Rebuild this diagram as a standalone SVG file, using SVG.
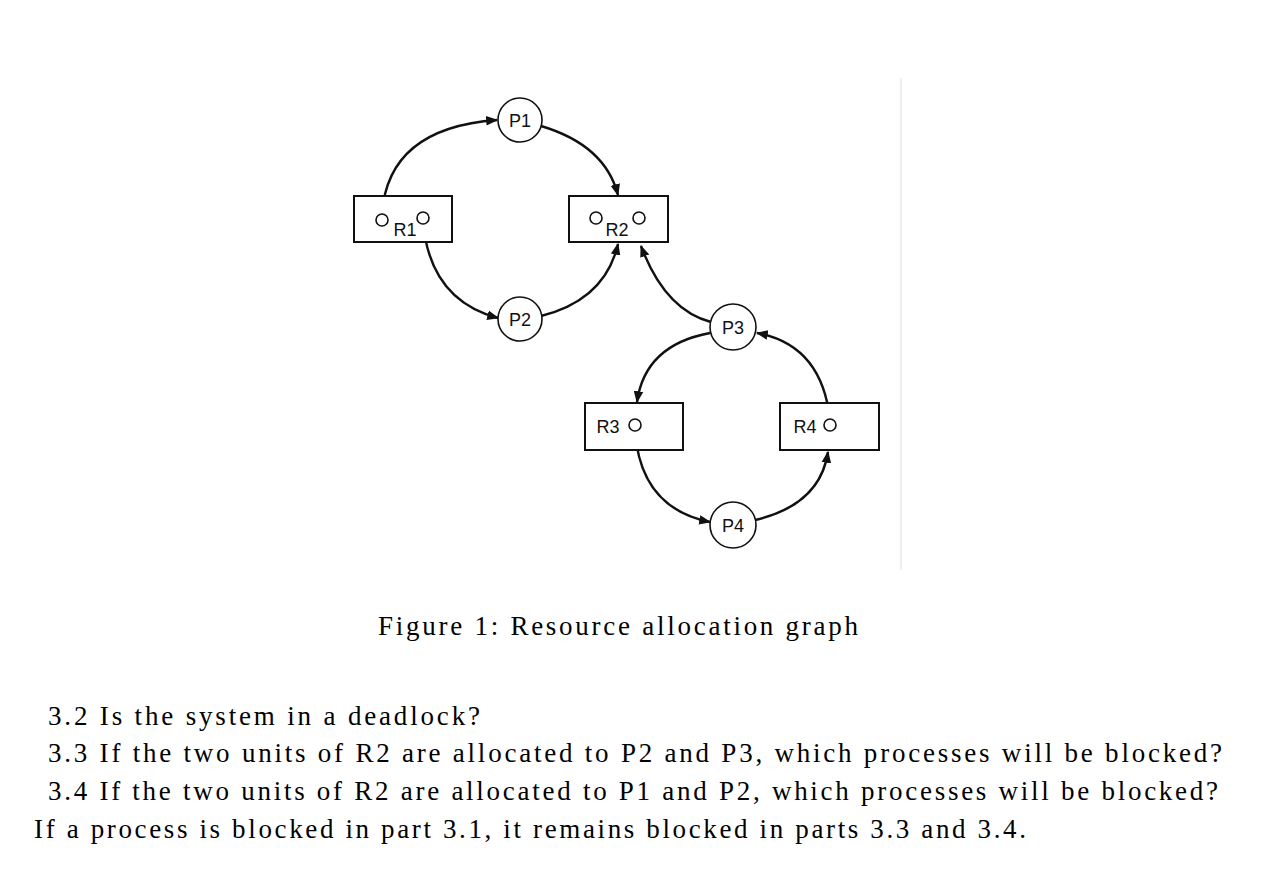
<svg xmlns="http://www.w3.org/2000/svg" width="1280" height="876" viewBox="0 0 1280 876">
<style>
.box{fill:#fff;stroke:#111;stroke-width:2}
.pc{fill:#fff;stroke:#111;stroke-width:1.6}
.dot{fill:#fff;stroke:#111;stroke-width:1.6}
.lb{font-family:"Liberation Sans",Arial,sans-serif;font-size:18px;fill:#111;text-anchor:middle}
.e{fill:none;stroke:#111;stroke-width:2.4;marker-end:url(#ah)}
.t{font-family:"Liberation Serif","Times New Roman",serif;font-size:27px;fill:#000}
</style>
<defs><marker id="ah" viewBox="0 0 10 10" refX="9" refY="5" markerWidth="5" markerHeight="5" orient="auto"><path d="M0,1 L10,5 L0,9 z" fill="#111"/></marker></defs>
<rect width="1280" height="876" fill="#fff"/>
<line x1="901" y1="78" x2="901" y2="570" stroke="#ddd" stroke-width="1"/>
<g id="connectors">
<path class="e" d="M382,214 Q388,128 497,120"/>
<path class="e" d="M541,126 Q605,145 618,195"/>
<path class="e" d="M423,222 Q430,300 498,318"/>
<path class="e" d="M541,316 Q605,300 618,244"/>
<path class="e" d="M711,322 Q665,310 641,246"/>
<path class="e" d="M710,333 Q645,345 637,402"/>
<path class="e" d="M830,420 Q822,345 757,333"/>
<path class="e" d="M635,430 Q640,508 710,522"/>
<path class="e" d="M755,520 Q820,505 828,452"/>
</g>
<g id="R1"><rect class="box" x="354" y="196" width="98" height="46"/><circle class="dot" cx="382" cy="220" r="6"/><circle class="dot" cx="423" cy="218" r="6"/><text class="lb" x="405" y="236">R1</text></g>
<g id="R2"><rect class="box" x="569" y="196" width="99" height="46"/><circle class="dot" cx="596" cy="218" r="6"/><circle class="dot" cx="639" cy="218" r="6"/><text class="lb" x="617" y="236">R2</text></g>
<g id="R3"><rect class="box" x="585" y="403" width="98" height="47"/><text class="lb" x="608" y="433">R3</text><circle class="dot" cx="635" cy="425" r="6"/></g>
<g id="R4"><rect class="box" x="780" y="403" width="99" height="47"/><text class="lb" x="805" y="433">R4</text><circle class="dot" cx="830" cy="425" r="6"/></g>
<g id="P1"><circle class="pc" cx="520" cy="120" r="22"/><text class="lb" x="520" y="127">P1</text></g>
<g id="P2"><circle class="pc" cx="520" cy="319" r="22"/><text class="lb" x="520" y="326">P2</text></g>
<g id="P3"><circle class="pc" cx="733" cy="327" r="23"/><text class="lb" x="733" y="334">P3</text></g>
<g id="P4"><circle class="pc" cx="733" cy="525" r="23"/><text class="lb" x="733" y="532">P4</text></g>
<text class="t" x="378" y="635" textLength="480">Figure 1: Resource allocation graph</text>
<text class="t" x="48" y="725" textLength="432">3.2 Is the system in a deadlock?</text>
<text class="t" x="48" y="762" textLength="1174">3.3 If the two units of R2 are allocated to P2 and P3, which processes will be blocked?</text>
<text class="t" x="48" y="800" textLength="1170">3.4 If the two units of R2 are allocated to P1 and P2, which processes will be blocked?</text>
<text class="t" x="34" y="838" textLength="992">If a process is blocked in part 3.1, it remains blocked in parts 3.3 and 3.4.</text>
</svg>
